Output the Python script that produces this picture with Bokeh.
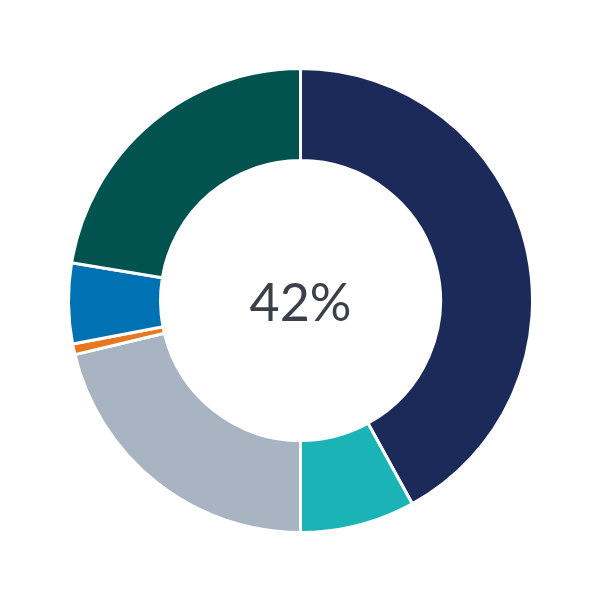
import numpy as np
from bokeh.plotting import figure
from bokeh.models import ColumnDataSource, Range1d
from bokeh.core.properties import value
from bokeh.embed import file_html
from bokeh.resources import INLINE

categories = ["Navy", "Teal", "Gray", "Orange", "Blue", "Green"]
shares = [42.0, 8.0, 21.25, 0.75, 5.6, 22.4]
colors = ["#1c2a5a", "#1bb4b6", "#a9b4c3", "#e87722", "#0072b3", "#00534f"]
center_label = "42%"

W = H = 584
cx, cy = 300, H - 300
R_OUT, R_IN = 232, 140

frac = np.array(shares) / sum(shares)
cum_end = np.cumsum(frac) * 2 * np.pi
cum_start = cum_end - frac * 2 * np.pi

src = ColumnDataSource(dict(
    cat=categories,
    start=np.pi / 2 - cum_end,
    end=np.pi / 2 - cum_start,
    color=colors,
))

p = figure(width=W, height=H, output_backend="svg", toolbar_location=None,
           x_range=Range1d(0, W), y_range=Range1d(0, H), min_border=0)
p.axis.visible = False
p.grid.visible = False
p.outline_line_color = None
p.background_fill_color = "white"

p.annular_wedge(x=cx, y=cy, inner_radius=R_IN, outer_radius=R_OUT,
                start_angle="start", end_angle="end", fill_color="color",
                line_color="white", line_width=3, source=src)

p.text(x=[cx], y=[cy], text=[center_label], text_align="center",
       text_baseline="middle", text_font=value("Lato"),
       text_font_size="52px", text_color="#3b404b")

open("out.html", "w").write(file_html(p, INLINE))
